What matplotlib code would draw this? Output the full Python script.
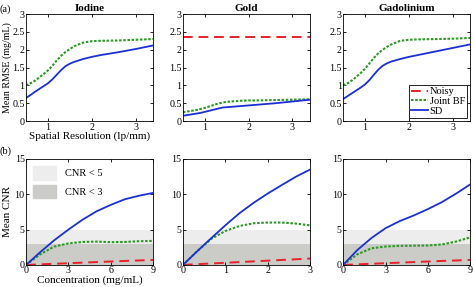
import numpy as np
import matplotlib
matplotlib.use('Agg')
from matplotlib import pyplot as plt
from matplotlib.patches import Patch

plt.rcParams['font.family'] = ['Liberation Serif', 'DejaVu Serif']
plt.rcParams['font.size'] = 7.2

titles = ['Iodine', 'Gold', 'Gadolinium']

# top row: mean RMSE vs spatial resolution
res = [0.5, 0.6, 0.7, 0.8, 0.9, 1.0, 1.1, 1.2, 1.3, 1.4, 1.5, 1.6, 1.8, 2.0, 2.2, 2.6, 3.0, 3.4]
rmse_noisy = {
    'Gold': [2.36] * 18,
}
rmse_jbf = {
    'Iodine': [1.0, 1.06, 1.13, 1.22, 1.32, 1.42, 1.55, 1.7, 1.83, 1.94, 2.02, 2.1,
               2.2, 2.24, 2.25, 2.26, 2.28, 2.3],
    'Gold': [0.25, 0.27, 0.29, 0.31, 0.34, 0.37, 0.41, 0.45, 0.49, 0.52, 0.54, 0.55,
             0.57, 0.58, 0.58, 0.59, 0.6, 0.61],
    'Gadolinium': [1.0, 1.06, 1.14, 1.24, 1.35, 1.47, 1.62, 1.77, 1.9, 2.0, 2.08, 2.15,
                   2.25, 2.28, 2.29, 2.3, 2.31, 2.33],
}
rmse_sd = {
    'Iodine': [0.65, 0.73, 0.82, 0.9, 0.98, 1.06, 1.17, 1.3, 1.43, 1.54, 1.61, 1.66,
               1.74, 1.8, 1.85, 1.93, 2.02, 2.12],
    'Gold': [0.15, 0.17, 0.19, 0.21, 0.23, 0.26, 0.29, 0.32, 0.35, 0.38, 0.39, 0.4,
             0.42, 0.44, 0.46, 0.5, 0.55, 0.6],
    'Gadolinium': [0.62, 0.7, 0.78, 0.86, 0.94, 1.03, 1.15, 1.3, 1.44, 1.55, 1.62, 1.67,
                   1.74, 1.8, 1.85, 1.95, 2.05, 2.15],
}

# bottom row: mean CNR vs concentration
conc = {
    'Iodine': [0, 1, 2, 3, 4, 5, 6, 7, 8, 9],
    'Gold': [0, 0.33, 0.67, 1.0, 1.33, 1.67, 2.0, 2.33, 2.67, 3.0],
    'Gadolinium': [0, 1, 2, 3, 4, 5, 6, 7, 8, 9],
}
cnr_noisy = {
    'Iodine': [0, 0.08, 0.16, 0.24, 0.32, 0.4, 0.48, 0.56, 0.63, 0.7],
    'Gold': [0, 0.1, 0.2, 0.3, 0.4, 0.5, 0.6, 0.7, 0.8, 0.9],
    'Gadolinium': [0, 0.08, 0.16, 0.24, 0.32, 0.4, 0.48, 0.56, 0.63, 0.7],
}
cnr_jbf = {
    'Iodine': [0, 1.5, 2.6, 3.05, 3.25, 3.3, 3.22, 3.25, 3.35, 3.4],
    'Gold': [0, 1.9, 3.7, 4.8, 5.5, 5.9, 6.0, 6.0, 5.85, 5.6],
    'Gadolinium': [0, 1.5, 2.35, 2.6, 2.7, 2.72, 2.75, 2.9, 3.3, 3.9],
}
cnr_sd = {
    'Iodine': [0, 1.8, 3.5, 5.0, 6.4, 7.6, 8.5, 9.3, 9.8, 10.2],
    'Gold': [0, 1.9, 3.8, 5.6, 7.3, 8.8, 10.1, 11.3, 12.5, 13.5],
    'Gadolinium': [0, 2.1, 3.8, 5.2, 6.2, 7.0, 7.9, 8.9, 10.1, 11.4],
}
conc_ticks = {
    'Iodine': [0, 3, 6, 9],
    'Gold': [0, 1, 2, 3],
    'Gadolinium': [0, 3, 6, 9],
}

RED = '#e8202a'
GREEN = '#2a9a22'
BLUE = '#1b2fd6'
LIGHT = '#ededed'
DARK = '#cbcbc8'

fig = plt.figure(figsize=(4.74, 2.87), dpi=100)
lefts = [0.055, 0.386, 0.724]
width = 0.268


def style(ax):
    ax.tick_params(direction='in', length=2.5, width=0.6, top=True, right=True, pad=1.0)
    for s in ax.spines.values():
        s.set_linewidth(0.6)


for i, name in enumerate(titles):
    ax = fig.add_axes([lefts[i], 0.578, width, 0.373])
    if name in rmse_noisy:
        ax.plot(res, rmse_noisy[name], color=RED, ls=(0, (5, 3)), lw=1.4, label='Noisy')
    else:
        ax.plot([], [], color=RED, ls=(0, (5, 3)), lw=1.4, label='Noisy')
    ax.plot(res, rmse_jbf[name], color=GREEN, ls=(0, (1.2, 0.8)), lw=1.5, label='Joint BF')
    ax.plot(res, rmse_sd[name], color=BLUE, lw=1.3, label='SD')
    ax.set_xlim(0.5, 3.4)
    ax.set_ylim(0, 3)
    ax.set_xticks([1, 2, 3])
    ax.set_yticks([0, 0.5, 1, 1.5, 2, 2.5, 3])
    ax.set_yticklabels(['0', '0.5', '1', '1.5', '2', '2.5', '3'])
    ax.set_title(name, fontweight='bold', fontsize=8, pad=2)
    style(ax)
    if i == 0:
        ax.set_ylabel('Mean RMSE (mg/mL)', fontsize=7.2)
        ax.yaxis.set_label_coords(-0.11, 0.5)
        ax.set_xlabel('Spatial Resolution (lp/mm)', labelpad=0, fontsize=8)
    if i == 2:
        ax.legend(loc='lower right', fontsize=7.5, handlelength=1.6, handletextpad=0.2,
                  borderpad=0.2, labelspacing=0.05, fancybox=False, edgecolor='black',
                  framealpha=1, borderaxespad=0.3).get_frame().set_linewidth(0.6)

    bx = fig.add_axes([lefts[i], 0.077, width, 0.369])
    x = conc[name]
    bx.axhspan(0, 5, color=LIGHT, lw=0)
    bx.axhspan(0, 3, color=DARK, lw=0)
    bx.plot(x, cnr_noisy[name], color=RED, ls=(0, (5, 3)), lw=1.4)
    bx.plot(x, cnr_jbf[name], color=GREEN, ls=(0, (1.2, 0.8)), lw=1.5)
    bx.plot(x, cnr_sd[name], color=BLUE, lw=1.3)
    bx.set_xlim(x[0], x[-1])
    bx.set_ylim(0, 15)
    bx.set_xticks(conc_ticks[name])
    bx.set_yticks([0, 5, 10, 15])
    style(bx)
    if i == 0:
        bx.set_ylabel('Mean CNR', fontsize=8)
        bx.yaxis.set_label_coords(-0.11, 0.5)
        bx.set_xlabel('Concentration (mg/mL)', labelpad=0, fontsize=8)
        bx.legend(handles=[Patch(color=LIGHT, label='CNR < 5'),
                           Patch(color=DARK, label='CNR < 3')],
                  loc='upper left', frameon=False, fontsize=7.5, handlelength=2.2,
                  handleheight=1.6, labelspacing=0.5, borderaxespad=0.3)

fig.text(0.0, 0.985, '(a)', fontsize=7.5, va='top')
fig.text(0.0, 0.49, '(b)', fontsize=7.5, va='top')

fig.savefig('out.png', dpi=100)
